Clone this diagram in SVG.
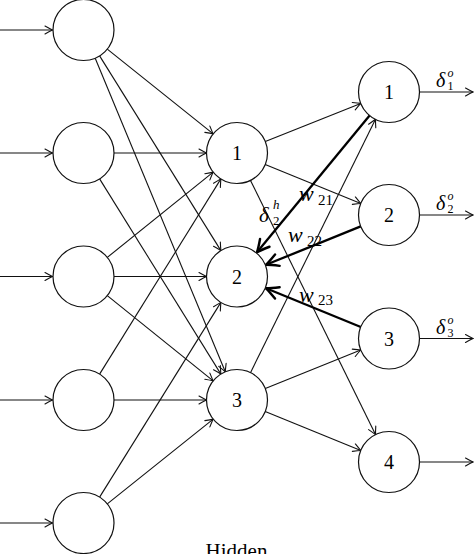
<svg xmlns="http://www.w3.org/2000/svg" width="474" height="554" viewBox="0 0 474 554">
<defs>
<marker id="a" markerUnits="userSpaceOnUse" markerWidth="14" markerHeight="14" refX="0" refY="0" viewBox="-10 -7 12 14" orient="auto" overflow="visible">
<path d="M -7.5,-4 Q -2.5,-1.2 0,0 Q -2.5,1.2 -7.5,4" fill="none" stroke="#111" stroke-width="1.1" stroke-linecap="round"/>
</marker>
<marker id="b" markerUnits="userSpaceOnUse" markerWidth="20" markerHeight="20" refX="0" refY="0" viewBox="-14 -9 16 18" orient="auto" overflow="visible">
<path d="M -11,-5.5 Q -4,-1.6 0,0 Q -4,1.6 -11,5.5" fill="none" stroke="#000" stroke-width="2.2" stroke-linecap="round"/>
</marker>
</defs>
<style>
.n{fill:#fff;stroke:#111;stroke-width:1.2}
.t{font-family:"Liberation Serif","Times New Roman","DejaVu Serif",serif;font-size:20px;fill:#000;text-anchor:middle}
.e{stroke:#111;stroke-width:1.1;fill:none;marker-end:url(#a)}
.k{stroke:#000;stroke-width:2.3;fill:none;marker-end:url(#b)}
.m{font-family:"Liberation Serif","Times New Roman","DejaVu Serif",serif;font-style:italic;fill:#000}
.s{font-family:"Liberation Serif","Times New Roman","DejaVu Serif",serif;fill:#000}
</style>
<rect width="474" height="554" fill="#fff"/>
<g id="connectors">
<line class="e" x1="0" y1="30" x2="52.5" y2="30"/>
<line class="e" x1="0" y1="153" x2="52.5" y2="153"/>
<line class="e" x1="0" y1="276.5" x2="52.5" y2="276.5"/>
<line class="e" x1="0" y1="400" x2="52.5" y2="400"/>
<line class="e" x1="0" y1="523" x2="52.5" y2="523"/>
<line class="e" x1="107.3" y1="49.1" x2="213.2" y2="133.9"/>
<line class="e" x1="99.6" y1="55.9" x2="220.9" y2="250.6"/>
<line class="e" x1="95.2" y1="58.2" x2="225.3" y2="371.8"/>
<line class="e" x1="114" y1="153" x2="206.5" y2="153"/>
<line class="e" x1="99.6" y1="178.9" x2="220.9" y2="374.1"/>
<line class="e" x1="107.3" y1="257.4" x2="213.2" y2="172.1"/>
<line class="e" x1="114" y1="276.5" x2="206.5" y2="276.5"/>
<line class="e" x1="107.3" y1="295.6" x2="213.2" y2="380.9"/>
<line class="e" x1="99.6" y1="374.1" x2="220.9" y2="178.9"/>
<line class="e" x1="114" y1="400" x2="206.5" y2="400"/>
<line class="e" x1="99.6" y1="497.1" x2="220.9" y2="302.4"/>
<line class="e" x1="107.3" y1="503.9" x2="213.2" y2="419.1"/>
<line class="e" x1="265.3" y1="141.6" x2="360.7" y2="103.4"/>
<line class="e" x1="265.2" y1="164.5" x2="360.8" y2="203.5"/>
<line class="e" x1="250.5" y1="180.4" x2="375.5" y2="434.6"/>
<line class="e" x1="250.5" y1="372.7" x2="375.5" y2="119.3"/>
<line class="e" x1="265.3" y1="388.6" x2="360.7" y2="350"/>
<line class="e" x1="265.2" y1="411.5" x2="360.8" y2="450.5"/>
<line class="e" x1="419.5" y1="92" x2="473" y2="92"/>
<line class="e" x1="419.5" y1="215" x2="473" y2="215"/>
<line class="e" x1="419.5" y1="338.5" x2="473" y2="338.5"/>
<line class="e" x1="419.5" y1="462" x2="473" y2="462"/>
<line class="k" x1="369.6" y1="115.5" x2="257" y2="252.3"/>
<line class="k" x1="360.7" y1="226.4" x2="266" y2="264.8"/>
<line class="k" x1="360.8" y1="327" x2="266" y2="288.3"/>
</g>
<g id="in1"><circle class="n" cx="83.5" cy="30" r="30.5"/></g>
<g id="in2"><circle class="n" cx="83.5" cy="153" r="30.5"/></g>
<g id="in3"><circle class="n" cx="83.5" cy="276.5" r="30.5"/></g>
<g id="in4"><circle class="n" cx="83.5" cy="400" r="30.5"/></g>
<g id="in5"><circle class="n" cx="83.5" cy="523" r="30.5"/></g>
<g id="h1"><circle class="n" cx="237" cy="153" r="30.5"/><text class="t" x="237" y="160">1</text></g>
<g id="h2"><circle class="n" cx="237" cy="276.5" r="30.5"/><text class="t" x="237" y="283.5">2</text></g>
<g id="h3"><circle class="n" cx="237" cy="400" r="30.5"/><text class="t" x="237" y="407">3</text></g>
<g id="o1"><circle class="n" cx="389" cy="92" r="30.5"/><text class="t" x="389" y="99">1</text></g>
<g id="o2"><circle class="n" cx="389" cy="215" r="30.5"/><text class="t" x="389" y="222">2</text></g>
<g id="o3"><circle class="n" cx="389" cy="338.5" r="30.5"/><text class="t" x="389" y="345.5">3</text></g>
<g id="o4"><circle class="n" cx="389" cy="462" r="30.5"/><text class="t" x="389" y="469">4</text></g>
<g id="labels">
<text class="m" x="299" y="201" font-size="22">w</text><text class="s" x="318" y="205" font-size="15">21</text>
<text class="m" x="288" y="242" font-size="22">w</text><text class="s" x="307" y="246" font-size="15">22</text>
<text class="m" x="299" y="302" font-size="22">w</text><text class="s" x="318" y="305" font-size="15">23</text>
<text class="m" x="259" y="222" font-size="21">δ</text><text class="m" x="273" y="209" font-size="13">h</text><text class="s" x="273" y="225" font-size="13">2</text>
<text class="m" x="436" y="87" font-size="20">δ</text><text class="m" x="447.5" y="77" font-size="12">o</text><text class="s" x="447.5" y="90" font-size="12">1</text>
<text class="m" x="436" y="210" font-size="20">δ</text><text class="m" x="447.5" y="200" font-size="12">o</text><text class="s" x="447.5" y="213" font-size="12">2</text>
<text class="m" x="436" y="333.5" font-size="20">δ</text><text class="m" x="447.5" y="323.5" font-size="12">o</text><text class="s" x="447.5" y="336.5" font-size="12">3</text>
<text class="s" x="236.5" y="558" font-size="21" text-anchor="middle">Hidden</text>
</g>
</svg>
